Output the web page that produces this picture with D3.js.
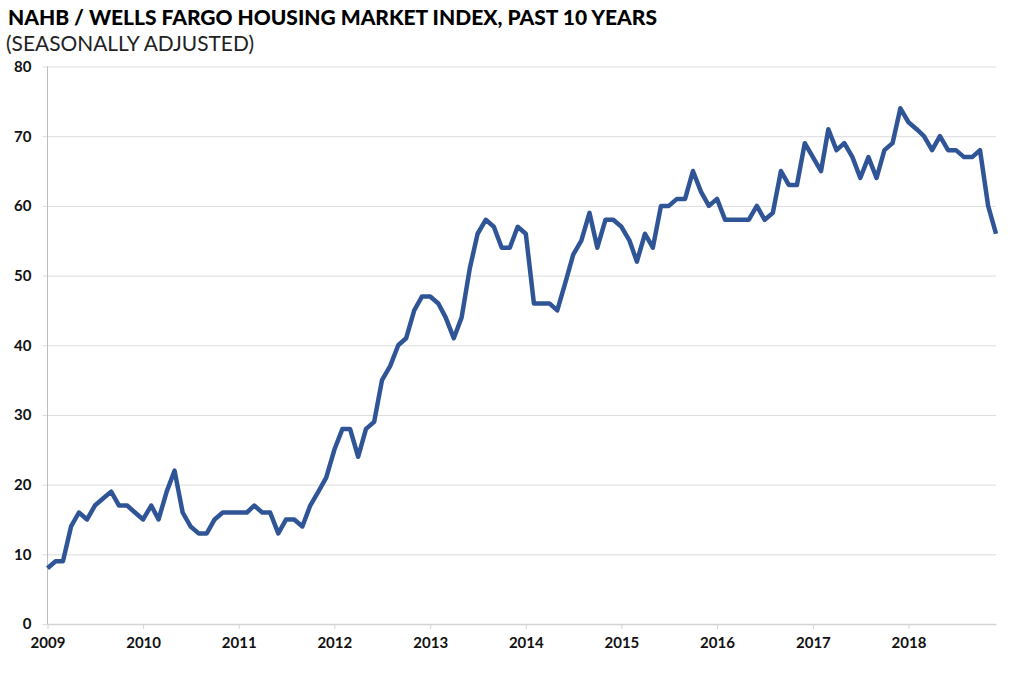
<!DOCTYPE html>
<html>
<head>
<meta charset="utf-8">
<script src="https://cdn.jsdelivr.net/npm/d3@7"></script>
<style>
  html, body { margin: 0; padding: 0; background: #fff; }
  svg { display: block; font-family: Lato, "Open Sans", sans-serif; }
</style>
</head>
<body>
<svg id="chart" width="1024" height="674"></svg>
<script>
// NAHB / Wells Fargo HMI, seasonally adjusted, Jan 2009 - Dec 2018
let startMonth = new Date(2009, 0, 1);
let hmi = [
  8, 9, 9, 14, 16, 15, 17, 18, 19, 17, 17, 16,      // 2009
  15, 17, 15, 19, 22, 16, 14, 13, 13, 15, 16, 16,   // 2010
  16, 16, 17, 16, 16, 13, 15, 15, 14, 17, 19, 21,   // 2011
  25, 28, 28, 24, 28, 29, 35, 37, 40, 41, 45, 47,   // 2012
  47, 46, 44, 41, 44, 51, 56, 58, 57, 54, 54, 57,   // 2013
  56, 46, 46, 46, 45, 49, 53, 55, 59, 54, 58, 58,   // 2014
  57, 55, 52, 56, 54, 60, 60, 61, 61, 65, 62, 60,   // 2015
  61, 58, 58, 58, 58, 60, 58, 59, 65, 63, 63, 69,   // 2016
  67, 65, 71, 68, 69, 67, 64, 67, 64, 68, 69, 74,   // 2017
  72, 71, 70, 68, 70, 68, 68, 67, 67, 68, 60, 56    // 2018
];
let yearLabels = ["2009","2010","2011","2012","2013","2014","2015","2016","2017","2018"];
let yTicks = [0, 10, 20, 30, 40, 50, 60, 70, 80];

let margin = {top: 66.5, right: 28, bottom: 50, left: 47.5};
let width = 1024 - margin.left - margin.right;
let height = 674 - margin.top - margin.bottom;

let data = hmi.map((v, i) => ({date: d3.timeMonth.offset(startMonth, i), value: v}));

let svg = d3.select("#chart");

svg.append("text")
    .attr("x", 8).attr("y", 25)
    .attr("font-size", 21).attr("font-weight", 900).attr("fill", "#000")
    .attr("textLength", 649).attr("lengthAdjust", "spacingAndGlyphs")
    .text("NAHB / WELLS FARGO HOUSING MARKET INDEX, PAST 10 YEARS");

svg.append("text")
    .attr("x", 6).attr("y", 51)
    .attr("font-size", 21).attr("fill", "#222")
    .attr("textLength", 248).attr("lengthAdjust", "spacingAndGlyphs")
    .text("(SEASONALLY ADJUSTED)");

let g = svg.append("g")
    .attr("transform", "translate(" + margin.left + "," + margin.top + ")");

let x = d3.scaleTime()
    .domain([data[0].date, data[data.length - 1].date])
    .range([0, width]);
let y = d3.scaleLinear()
    .domain([0, 80])
    .range([height, 0]);

// gridlines + y labels
let yAxis = g.append("g")
    .call(d3.axisLeft(y).tickValues(yTicks).tickSize(-width - 5).tickPadding(11))
    .attr("transform", "translate(-5,0)");
yAxis.select(".domain").remove();
yAxis.selectAll(".tick line").attr("stroke", "#dcdcdc").attr("stroke-width", 1)
    .attr("x1", 0).attr("x2", width + 5);
yAxis.selectAll(".tick text")
    .attr("font-family", "Lato, 'Open Sans', sans-serif")
    .attr("font-size", 15).attr("font-weight", "bold").attr("fill", "#111");

// left axis line
g.append("line")
    .attr("x1", 0).attr("x2", 0)
    .attr("y1", 0).attr("y2", height)
    .attr("stroke", "#bdbdbd").attr("stroke-width", 1);

// bottom axis
let yearTicks = yearLabels.map(s => new Date(+s, 0, 1));
let xAxis = g.append("g")
    .attr("transform", "translate(0," + height + ")")
    .call(d3.axisBottom(x).tickValues(yearTicks).tickFormat((d, i) => yearLabels[i])
      .tickSizeInner(5).tickSizeOuter(0).tickPadding(8));
xAxis.select(".domain").attr("stroke", "#d4d4d4").attr("stroke-width", 1.5);
xAxis.selectAll(".tick line").attr("stroke", "#d4d4d4");
xAxis.selectAll(".tick text")
    .attr("font-family", "Lato, 'Open Sans', sans-serif")
    .attr("font-size", 15).attr("font-weight", "bold").attr("fill", "#111");

// the index line
let line = d3.line()
    .x(d => x(d.date))
    .y(d => y(d.value));

g.append("path")
    .datum(data)
    .attr("fill", "none")
    .attr("stroke", "#2f5597")
    .attr("stroke-width", 4.5)
    .attr("stroke-linejoin", "round")
    .attr("d", line);
</script>
</body>
</html>
